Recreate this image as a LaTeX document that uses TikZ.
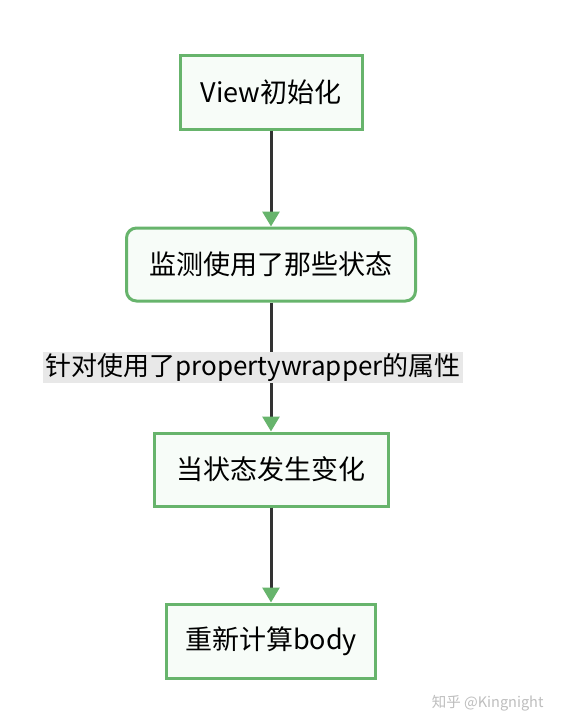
\documentclass[tikz,border=0pt]{standalone}
\usepackage{fontspec}
\setmainfont{Noto Sans CJK SC}
\usetikzlibrary{arrows.meta}
\definecolor{boxgreen}{HTML}{67B46C}
\definecolor{boxfill}{HTML}{F7FCF8}
\definecolor{linegray}{HTML}{333333}
\definecolor{labelbg}{HTML}{E8E8E8}
\definecolor{wmgray}{HTML}{BEBEBE}
\tikzset{
  flowbox/.style={draw=boxgreen, fill=boxfill, line width=3pt, inner sep=0pt,
    font=\fontsize{27pt}{31pt}\selectfont, text=black},
  flowarrow/.style={draw=linegray, line width=3pt,
    -{Triangle[width=17pt,length=15pt,color=boxgreen,fill=boxgreen]}},
  edgelabel/.style={fill=labelbg, inner sep=0pt, minimum height=31pt,
    font=\fontsize{26pt}{30pt}\selectfont, text=black},
}
\begin{document}
\begin{tikzpicture}[x=1pt,y=-1pt]
\useasboundingbox (0,0) rectangle (560,728);
\fill[white] (0,0) rectangle (560,728);
\node[flowbox, minimum width=182pt, minimum height=74pt] (b1) at (271,92) {View初始化};
\node[flowbox, rounded corners=10pt, minimum width=289pt, minimum height=73pt] (b2) at (271,264.5) {监测使用了那些状态};
\node[flowbox, minimum width=234pt, minimum height=73pt] (b3) at (271,469.5) {当状态发生变化};
\node[flowbox, minimum width=209pt, minimum height=74pt] (b4) at (271,641) {重新计算body};
\draw[flowarrow] (b1) -- (b2);
\draw[flowarrow] (b2) -- (b3);
\draw[flowarrow] (b3) -- (b4);
\node[edgelabel, minimum width=420pt] (lab) at (253,367.5) {针对使用了propertywrapper的属性};
\node[text=wmgray, font=\fontsize{14.5pt}{18pt}\selectfont, anchor=east] (wm) at (547,703) {知乎 @Kingnight};
\end{tikzpicture}
\end{document}
